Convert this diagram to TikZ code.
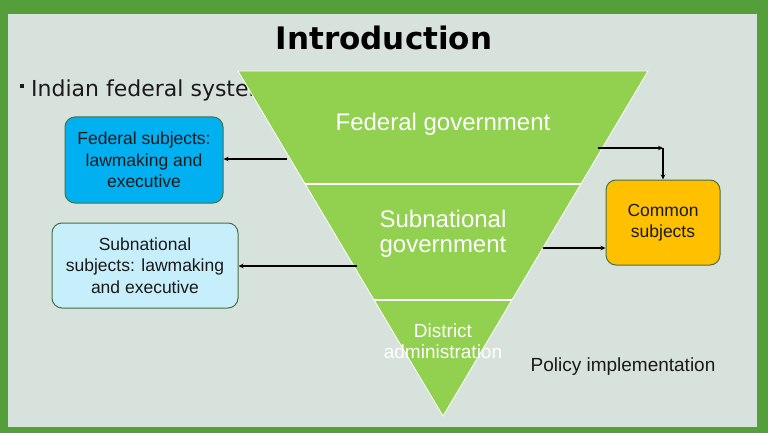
\documentclass[tikz,border=0pt]{standalone}
\usepackage{fontspec}
\setmainfont{Liberation Sans}
\newfontfamily\djv{DejaVu Sans}
\usetikzlibrary{arrows.meta}
\definecolor{frame}{HTML}{559F3B}
\definecolor{bg}{HTML}{D8E2DD}
\definecolor{tri}{HTML}{92D050}
\definecolor{edge}{HTML}{4A7040}
\definecolor{fedblue}{HTML}{00B0F0}
\definecolor{subblue}{HTML}{C6EEFB}
\definecolor{common}{HTML}{FFC000}
\definecolor{ink}{HTML}{1A1A1A}
\tikzset{
  subjbox/.style={draw=edge, line width=1pt, rounded corners=10pt, align=center,
    text=ink, inner sep=0pt, font=\fontsize{17.5}{21.5}\selectfont},
  tiertext/.style={text=white, align=center, inner sep=0pt},
  conn/.style={draw=black, line width=1.3pt, -{Stealth[length=5pt,width=4.5pt]}},
}
\begin{document}
\begin{tikzpicture}[x=1pt,y=-1pt]
\useasboundingbox (0,0) rectangle (768,433);
\fill[frame] (0,0) rectangle (768,433);
\fill[bg] (8,14) rectangle (757,427);
% title
\node[inner sep=0pt, font=\djv\bfseries\fontsize{31}{36}\selectfont] (title) at (384,38) {Introduction};
% bullet text (partly hidden under the triangle)
\fill[ink] (20,84) rectangle (24,88);
\node[anchor=base west, inner sep=0pt, text=ink, font=\djv\fontsize{22}{26}\selectfont] (bullet) at (31,97) {Indian federal system};
% triangle
\coordinate (tl) at (238,71);
\coordinate (tr) at (648,71);
\coordinate (ap) at (443,416);
\coordinate (l1) at (305,184);
\coordinate (r1) at (581,184);
\coordinate (l2) at (374,300);
\coordinate (r2) at (512,300);
\fill[tri] (tl) -- (tr) -- (ap) -- cycle;
\draw[white, line width=0.8pt, line join=miter] (tl) -- (tr) -- (ap) -- cycle;
\draw[white, line width=1.5pt] (l1) -- (r1);
\draw[white, line width=1.5pt] (l2) -- (r2);
\node[tiertext, font=\fontsize{24}{25.5}\selectfont] (fed) at (443,124) {Federal government};
\node[tiertext, font=\fontsize{24}{25.5}\selectfont] (sub) at (443,234) {Subnational\\government};
\node[tiertext, font=\fontsize{19}{21}\selectfont] (dist) at (443,341) {District\\administration};
% boxes
\node[subjbox, fill=fedblue, minimum width=158pt, minimum height=86pt] (fs) at (144,160) {\raisebox{-2pt}{\parbox{150pt}{\centering Federal subjects:\\lawmaking and\\executive}}};
\node[subjbox, fill=subblue, minimum width=186pt, minimum height=85pt] (ss) at (145,265.5) {\raisebox{-2pt}{\parbox{180pt}{\centering Subnational\\subjects: lawmaking\\and executive}}};
\node[subjbox, fill=common, minimum width=114pt, minimum height=85pt] (cs) at (663,222.5) {\raisebox{-2pt}{\parbox{108pt}{\centering Common\\subjects}}};
\node[inner sep=0pt, text=ink, font=\fontsize{19}{21}\selectfont] (pol) at (623,367) {Policy implementation};
% connectors
\coordinate (a1) at (287,159);
\coordinate (a2) at (357,266);
\coordinate (a3) at (598,148);
\coordinate (a3c) at (663,148);
\coordinate (a4) at (543,248);
\draw[conn] (a1) -- (a1 -| fs.east);
\draw[conn] (a2) -- (a2 -| ss.east);
\draw[conn] (a3) -- (a3c);
\draw[conn] (a3c) -- (cs.north);
\draw[conn] (a4) -- (a4 -| cs.west);
\end{tikzpicture}
\end{document}
